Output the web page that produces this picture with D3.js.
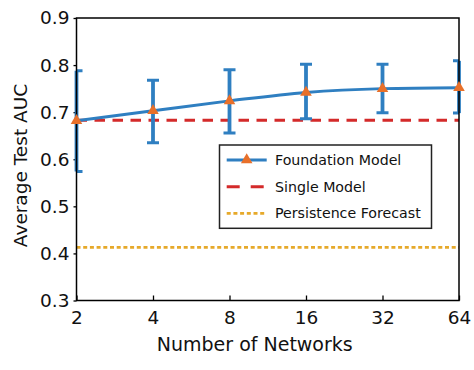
<!DOCTYPE html>
<html><head><meta charset="utf-8">
<script src="https://cdn.jsdelivr.net/npm/d3@7"></script>
<style>body{margin:0;background:#fff;}svg{display:block;font-family:"DejaVu Sans",sans-serif;}</style>
</head><body>
<svg id="c" width="474" height="370"></svg>
<script>
const networks = [2, 4, 8, 16, 32, 64];
const foundationMean = [0.682, 0.703, 0.724, 0.742, 0.750, 0.752];
const foundationUpper = [0.788, 0.768, 0.790, 0.802, 0.802, 0.809];
const foundationLower = [0.574, 0.635, 0.656, 0.686, 0.699, 0.698];
const singleModel = 0.683;
const persistence = 0.413;
const yTicks = [0.3, 0.4, 0.5, 0.6, 0.7, 0.8, 0.9];
const legendLabels = ["Foundation Model", "Single Model", "Persistence Forecast"];

const blue = "#2f7fc1", orange = "#e8702a", red = "#d42a2a", gold = "#e6a92a";
const L = 76.5, R = 459, T = 18, B = 300.5;
const svg = d3.select("#c");
const x = d3.scaleLog().base(2).domain([2, 64]).range([L, R]);
const y = d3.scaleLinear().domain([0.3, 0.9]).range([B, T]);

svg.append("defs").append("clipPath").attr("id","clip")
  .append("rect").attr("x",L).attr("y",T).attr("width",R-L).attr("height",B-T);

// axes
const xAxis = d3.axisBottom(x).tickValues(networks).tickFormat(d3.format("d")).tickSizeInner(-5).tickSizeOuter(0).tickPadding(10);
const gx = svg.append("g").attr("transform",`translate(0,${B})`).call(xAxis);
gx.select(".domain").remove();
gx.selectAll("line").attr("stroke","#000").attr("stroke-width",1.3);
gx.selectAll("text").attr("font-size",18.5).attr("fill","#111").attr("font-family","DejaVu Sans");

const yAxis = d3.axisLeft(y).tickValues(yTicks).tickFormat(d3.format(".1f")).tickSizeInner(3).tickSizeOuter(0).tickPadding(4);
const gy = svg.append("g").attr("transform",`translate(${L},0)`).call(yAxis);
gy.select(".domain").remove();
gy.selectAll("line").attr("stroke","#000").attr("stroke-width",1.3);
gy.selectAll("text").attr("font-size",18.5).attr("fill","#111").attr("font-family","DejaVu Sans");

const plot = svg.append("g").attr("clip-path","url(#clip)");
// reference lines
plot.append("line").attr("x1",L).attr("x2",R).attr("y1",y(persistence)).attr("y2",y(persistence))
  .attr("stroke",gold).attr("stroke-width",2.8).attr("stroke-dasharray","4,2.7");
plot.append("line").attr("x1",L).attr("x2",R).attr("y1",y(singleModel)).attr("y2",y(singleModel))
  .attr("stroke",red).attr("stroke-width",3).attr("stroke-dasharray","10.5,7.5");

// error bars
networks.forEach((n,i)=>{
  const cx = x(n);
  svg.append("line").attr("x1",cx).attr("x2",cx).attr("y1",y(foundationLower[i])).attr("y2",y(foundationUpper[i]))
    .attr("stroke",blue).attr("stroke-width",3.8);
  [foundationLower[i], foundationUpper[i]].forEach(v=>{
    plot.append("line").attr("x1",cx-6).attr("x2",cx+6).attr("y1",y(v)).attr("y2",y(v))
      .attr("stroke",blue).attr("stroke-width",3);
  });
});
// mean line
const line = d3.line().x((d,i)=>x(networks[i])).y(d=>y(d)).curve(d3.curveMonotoneX);
plot.append("path").datum(foundationMean).attr("d",line).attr("fill","none").attr("stroke",blue).attr("stroke-width",3);

// frame
svg.append("rect").attr("x",L).attr("y",T).attr("width",R-L).attr("height",B-T)
  .attr("fill","none").attr("stroke","#000").attr("stroke-width",1.5);

// markers
const tri = d3.symbol().type(d3.symbolTriangle).size(58);
svg.selectAll(".mk").data(foundationMean).join("path").attr("class","mk")
  .attr("transform",(d,i)=>`translate(${x(networks[i])},${y(d)})`).attr("d",tri).attr("fill",orange);

// axis titles
svg.append("text").attr("x",(L+R)/2 - 13).attr("y",350.5).attr("text-anchor","middle")
  .attr("font-size",19).attr("fill","#111").text("Number of Networks");
svg.append("text").attr("transform","translate(26.5,165.5) rotate(-90)").attr("text-anchor","middle")
  .attr("font-size",18.5).attr("fill","#111").text("Average Test AUC");

// legend
const lg = svg.append("g");
lg.append("rect").attr("x",219.5).attr("y",145).attr("width",212).attr("height",83.3)
  .attr("fill","#fff").attr("stroke","#222").attr("stroke-width",1.5);
const rows = [160, 186.7, 213.3];
const lx1 = 226.7, lx2 = 266.7;
lg.append("line").attr("x1",lx1).attr("x2",lx2).attr("y1",rows[0]).attr("y2",rows[0]).attr("stroke",blue).attr("stroke-width",3);
lg.append("path").attr("transform",`translate(${(lx1+lx2)/2},${rows[0]})`).attr("d",tri).attr("fill",orange);
lg.append("line").attr("x1",lx1).attr("x2",lx2).attr("y1",rows[1]).attr("y2",rows[1]).attr("stroke",red).attr("stroke-width",3).attr("stroke-dasharray","13,11");
lg.append("line").attr("x1",lx1).attr("x2",lx2).attr("y1",rows[2]).attr("y2",rows[2]).attr("stroke",gold).attr("stroke-width",2.8).attr("stroke-dasharray","4,2.7");
legendLabels.forEach((t,i)=>{
  lg.append("text").attr("x",275).attr("y",rows[i]).attr("dy","0.36em").attr("font-size",14.2).attr("fill","#111").text(t);
});
</script>
</body></html>
